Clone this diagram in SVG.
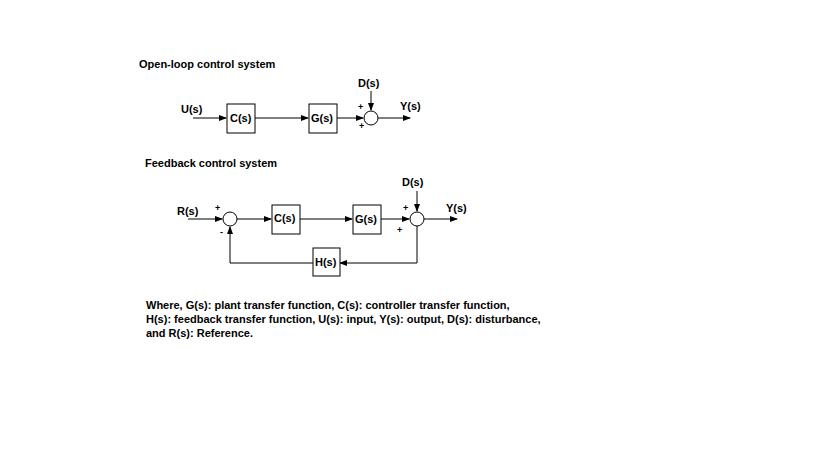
<svg xmlns="http://www.w3.org/2000/svg" width="819" height="460" viewBox="0 0 819 460">
<defs>
<marker id="ah" markerWidth="8" markerHeight="6" refX="7" refY="3" orient="auto" markerUnits="userSpaceOnUse"><path d="M0,0 L8,3 L0,6 Z" fill="#000"/></marker>
</defs>
<style>
text{font-family:"Liberation Sans",Arial,sans-serif;font-weight:bold;font-size:11px;fill:#000}
.s{font-size:9px}
rect,circle{fill:#fff;stroke:#000;stroke-width:1}
.c path{fill:none;stroke:#000;stroke-width:1}
</style>
<rect width="819" height="460" fill="#fff" style="stroke:none"/>
<text x="139" y="68">Open-loop control system</text>
<text x="145" y="167">Feedback control system</text>
<g class="c">
<path d="M193,118 H226" marker-end="url(#ah)"/>
<path d="M255,118 H308" marker-end="url(#ah)"/>
<path d="M337,118 H363" marker-end="url(#ah)"/>
<path d="M371,91 V110" marker-end="url(#ah)"/>
<path d="M378,118 H410" marker-end="url(#ah)"/>
<path d="M188,219 H222" marker-end="url(#ah)"/>
<path d="M237,219 H271" marker-end="url(#ah)"/>
<path d="M300,219 H352" marker-end="url(#ah)"/>
<path d="M381,219 H409" marker-end="url(#ah)"/>
<path d="M417,191 V211" marker-end="url(#ah)"/>
<path d="M424,219 H457" marker-end="url(#ah)"/>
<path d="M417,226 V263 H340" marker-end="url(#ah)"/>
<path d="M313,263 H230 V227" marker-end="url(#ah)"/>
</g>
<g id="U"><text x="181" y="113">U(s)</text></g>
<g id="C1"><rect x="227" y="104" width="28" height="29"/><text x="230" y="122">C(s)</text></g>
<g id="G1"><rect x="309" y="104" width="28" height="29"/><text x="311" y="122">G(s)</text></g>
<g id="S1"><circle cx="371" cy="118" r="7"/><text class="s" x="358" y="110">+</text><text class="s" x="359" y="129">+</text></g>
<g id="D1"><text x="358" y="87">D(s)</text></g>
<g id="Y1"><text x="400" y="110">Y(s)</text></g>
<g id="R"><text x="177" y="215">R(s)</text></g>
<g id="S2"><circle cx="230" cy="219" r="7"/><text class="s" x="215" y="211">+</text><text class="s" x="220" y="235">-</text></g>
<g id="C2"><rect x="272" y="205" width="28" height="29"/><text x="274" y="222">C(s)</text></g>
<g id="G2"><rect x="353" y="205" width="28" height="29"/><text x="355" y="223">G(s)</text></g>
<g id="S3"><circle cx="417" cy="219" r="7"/><text class="s" x="403" y="211">+</text><text class="s" x="397" y="233">+</text></g>
<g id="D2"><text x="402" y="186">D(s)</text></g>
<g id="Y2"><text x="446" y="212">Y(s)</text></g>
<g id="H"><rect x="313" y="248" width="27" height="28"/><text x="315" y="266">H(s)</text></g>
<text x="146" y="309">Where, G(s): plant transfer function, C(s): controller transfer function,</text>
<text x="146" y="323">H(s): feedback transfer function, U(s): input, Y(s): output, D(s): disturbance,</text>
<text x="146" y="337">and R(s): Reference.</text>
</svg>
